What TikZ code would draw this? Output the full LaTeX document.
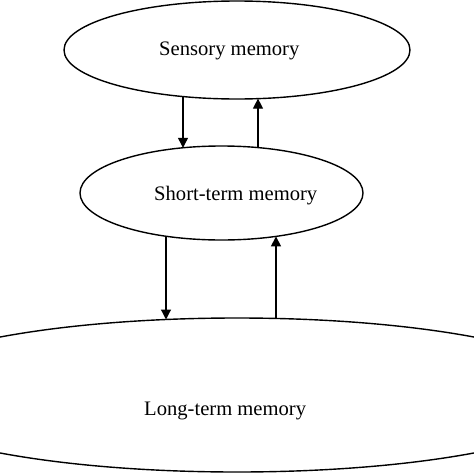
\documentclass[tikz,border=0pt]{standalone}
\usepackage{fontspec}
\setmainfont{Liberation Serif}
\usetikzlibrary{shapes.geometric,arrows.meta}
\begin{document}
\begin{tikzpicture}[x=1pt,y=-1pt,
  mem/.style={draw, ellipse, line width=1.4pt, inner sep=0pt},
  lbl/.style={anchor=base west, inner sep=0pt, font=\fontsize{20.6}{24}\selectfont},
  flow/.style={line width=1.2pt, -{Triangle[length=10pt,width=10pt]}}]
\useasboundingbox (0,0) rectangle (474,474);
\clip (0,0) rectangle (474,474);
\node[mem, minimum width=346pt, minimum height=98pt] (smem) at (237,50) {};
\node[mem, minimum width=283pt, minimum height=94pt] (stm) at (221.5,193) {};
\node[mem, minimum width=720pt, minimum height=154pt] (ltm) at (237,395) {};
\node[lbl] (smemtext) at (159,55) {Sensory memory};
\node[lbl] (stmtext) at (154,200) {Short-term memory};
\node[lbl] (ltmtext) at (144,415) {Long-term memory};
\coordinate (a1s) at (183,96.6);
\coordinate (a1e) at (183,147.8);
\coordinate (a2s) at (258,147.6);
\coordinate (a2e) at (258,98.6);
\coordinate (a3s) at (166,236.2);
\coordinate (a3e) at (166,319.5);
\coordinate (a4s) at (276,318.5);
\coordinate (a4e) at (276,236.4);
\draw[flow] (a1s) -- (a1e);
\draw[flow] (a2s) -- (a2e);
\draw[flow] (a3s) -- (a3e);
\draw[flow] (a4s) -- (a4e);
\end{tikzpicture}
\end{document}
